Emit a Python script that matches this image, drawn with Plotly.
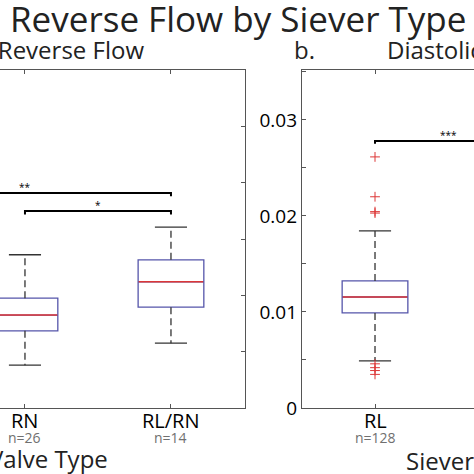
import plotly.graph_objects as go

# ---------------- data ----------------
# Left panel (Reverse Flow by valve type); category positions 0=RL (off view), 1=RN, 2=RL/RN
left_pos = [1, 2]
left_labels = ["RN", "RL/RN"]
left_n = ["n=26", "n=14"]
left_q1 = [0.0137, 0.0179]
left_med = [0.0165, 0.0224]
left_q3 = [0.0195, 0.0263]
left_lo = [0.0076, 0.0115]
left_hi = [0.0272, 0.0321]

# Right panel (Diastolic reverse flow by siever type); 0=RL
right_pos = [0]
right_labels = ["RL"]
right_n = ["n=128"]
right_q1 = [0.0099]
right_med = [0.01156]
right_q3 = [0.01323]
right_lo = [0.0049]
right_hi = [0.01844]
right_out_x = [0, 0, 0, 0, 0, 0, 0, 0]
right_out_y = [0.02615, 0.0220, 0.02045, 0.0203, 0.0046, 0.0042, 0.0039, 0.0035]

# significance brackets: (x0, x1, y, label)
left_sig = [(0, 2, 0.03817, "**"), (1, 2, 0.03497, "*")]
right_sig = [(0, 1, 0.02781, "***")]

BLUE = "rgb(85,85,170)"
RED = "rgb(220,55,55)"
DARK = "#333333"
AX = "#555555"
FONT = "Open Sans"

W = H = 474
BOX_W = 0.45
CAP_HW = 0.11

fig = go.Figure()


def add_boxes(pos, q1, med, q3, lo, hi, xa, ya):
    fig.add_trace(go.Box(
        x=pos, q1=q1, median=med, q3=q3, lowerfence=q1, upperfence=q3,
        width=BOX_W, whiskerwidth=0, boxpoints=False,
        line=dict(color=BLUE, width=1.3), fillcolor="rgba(0,0,0,0)",
        xaxis=xa, yaxis=ya, showlegend=False, hoverinfo="skip"))
    for p, a, m, b, l, h in zip(pos, q1, med, q3, lo, hi):
        fig.add_trace(go.Scatter(x=[p, p, None, p, p], y=[b, h, None, a, l], mode="lines",
                                 line=dict(color=DARK, width=1.3, dash="7px,4px"),
                                 xaxis=xa, yaxis=ya, showlegend=False, hoverinfo="skip"))
        fig.add_trace(go.Scatter(x=[p - CAP_HW, p + CAP_HW, None, p - CAP_HW, p + CAP_HW],
                                 y=[h, h, None, l, l], mode="lines",
                                 line=dict(color=DARK, width=1.3),
                                 xaxis=xa, yaxis=ya, showlegend=False, hoverinfo="skip"))
        fig.add_trace(go.Scatter(x=[p - BOX_W / 2 + 0.004, p + BOX_W / 2 - 0.004], y=[m, m], mode="lines",
                                 line=dict(color=RED, width=1.6),
                                 xaxis=xa, yaxis=ya, showlegend=False, hoverinfo="skip"))


def add_sig(sigs, xa, ya, hook):
    for x0, x1, y, lab in sigs:
        fig.add_trace(go.Scatter(x=[x0, x0, x1, x1], y=[y - hook, y, y, y - hook], mode="lines",
                                 line=dict(color="black", width=2),
                                 xaxis=xa, yaxis=ya, showlegend=False, hoverinfo="skip"))
        fig.add_annotation(x=(x0 + x1) / 2, y=y, xref=xa, yref=ya, text=lab, showarrow=False,
                           yanchor="bottom", yshift=-3, font=dict(size=10, color="black", family=FONT))


add_boxes(left_pos, left_q1, left_med, left_q3, left_lo, left_hi, "x", "y")
add_boxes(right_pos, right_q1, right_med, right_q3, right_lo, right_hi, "x2", "y2")
fig.add_trace(go.Scatter(x=right_out_x, y=right_out_y, mode="markers",
                         marker=dict(symbol="cross-thin", size=7, line=dict(color=RED, width=1)),
                         xaxis="x2", yaxis="y2", showlegend=False, hoverinfo="skip"))
add_sig(left_sig, "x", "y", 0.0006)
add_sig(right_sig, "x2", "y2", 0.0003)

# category labels and n= labels
for xa, pos, labs, ns in (("x", left_pos, left_labels, left_n), ("x2", right_pos, right_labels, right_n)):
    for p, lab, n in zip(pos, labs, ns):
        fig.add_annotation(x=p, y=(474 - 420) / 474, xref=xa, yref="paper", text=lab, showarrow=False,
                           yanchor="middle", font=dict(size=20, color="black", family=FONT))
        fig.add_annotation(x=p, y=(474 - 437) / 474, xref=xa, yref="paper", text=n, showarrow=False,
                           yanchor="middle", font=dict(size=14, color="#707070", family=FONT))

ydom = [(474 - 408) / 474, (474 - 70) / 474]
common_x = dict(showline=True, linecolor=AX, linewidth=1.3, mirror="ticks", ticks="inside",
                ticklen=4, tickcolor=AX, showgrid=False, zeroline=False, automargin=False,
                showticklabels=False)

fig.update_layout(
    width=W, height=H, margin=dict(l=0, r=0, t=0, b=0, autoexpand=False),
    paper_bgcolor="white", plot_bgcolor="white", showlegend=False,
    xaxis=dict(domain=[0, 245 / 474], range=[0.829, 2.507], tickvals=left_pos,
               anchor="y", **common_x),
    yaxis=dict(domain=ydom, range=[0, 0.06], dtick=0.01, side="right", showline=True,
               linecolor=AX, linewidth=1.3, ticks="inside", ticklen=4, tickcolor=AX,
               showticklabels=False, showgrid=False, zeroline=False, anchor="x",
               automargin=False),
    xaxis2=dict(domain=[302 / 474, 1], range=[-0.5, 0.678], tickvals=right_pos,
                anchor="y2", **common_x),
    yaxis2=dict(domain=ydom, range=[0, 0.0352], tickvals=[0, 0.01, 0.02, 0.03],
                ticktext=["0", "0.01", "0.02", "0.03"], showline=True, linecolor=AX,
                linewidth=1.3, ticks="inside", ticklen=4, tickcolor=AX,
                minor=dict(dtick=0.005, ticks="inside", ticklen=4, tickcolor=AX),
                showgrid=False, zeroline=False, anchor="x2", automargin=False,
                tickfont=dict(size=19, color="black", family=FONT)),
)

# titles
fig.add_annotation(x=238 / 474, y=1 + 7 / 474, xref="paper", yref="paper", xanchor="center",
                   yanchor="top", text="Reverse Flow by Siever Type", showarrow=False,
                   font=dict(size=35, color="#222", family=FONT))
fig.add_annotation(x=146 / 474, y=1 - 31 / 474, xref="paper", yref="paper", xanchor="right",
                   yanchor="top", text="a.     Reverse Flow", showarrow=False,
                   font=dict(size=24, color="#222", family=FONT))
fig.add_annotation(x=292 / 474, y=1 - 31 / 474, xref="paper", yref="paper", xanchor="left",
                   yanchor="top", text="b.", showarrow=False,
                   font=dict(size=24, color="#222", family=FONT))
fig.add_annotation(x=385 / 474, y=1 - 31 / 474, xref="paper", yref="paper", xanchor="left",
                   yanchor="top", text="Diastolic Reverse Flow", showarrow=False,
                   font=dict(size=24, color="#222", family=FONT))
fig.add_annotation(x=110 / 474, y=1 - 440 / 474, xref="paper", yref="paper", xanchor="right",
                   yanchor="top", text="Valve Type", showarrow=False,
                   font=dict(size=24, color="#222", family=FONT))
fig.add_annotation(x=404 / 474, y=1 - 442 / 474, xref="paper", yref="paper", xanchor="left",
                   yanchor="top", text="Siever Type", showarrow=False,
                   font=dict(size=24, color="#222", family=FONT))

fig.write_html("out.html")
